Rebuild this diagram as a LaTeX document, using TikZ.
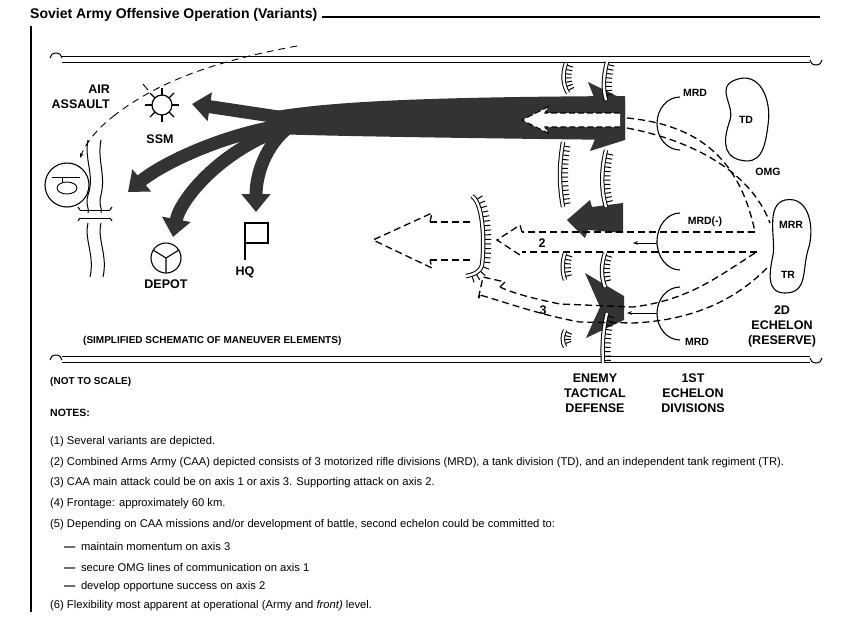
\documentclass[tikz,border=0pt]{standalone}
\usepackage{fontspec}
\setmainfont{Liberation Sans}
\usetikzlibrary{arrows.meta,decorations.markings}
\begin{document}
\begin{tikzpicture}[x=1pt,y=-1pt,
 lbl/.style={font=\bfseries\fontsize{12.5}{15}\selectfont, align=center, inner sep=0pt},
 sm/.style={font=\bfseries\fontsize{10.5}{12}\selectfont},
 note/.style={font=\fontsize{11.2}{13}\selectfont, anchor=west, inner sep=0pt},
 trench/.style={draw, double=white, double distance=2.4pt, line width=1pt,
   postaction={decorate, decoration={markings, mark=between positions 0.06 and 0.96 step 4.5pt with {\draw[line width=1pt] (0,2pt) -- (0,8pt);}}}},
 dsh/.style={dashed, dash pattern=on 7pt off 4pt, line width=1.3pt},
 gry/.style={fill=black!80, draw=none},
 gbr/.style={draw=black!80, line width=13pt, -{Triangle[width=28pt,length=18pt]}},
 semi/.style={line width=1.1pt}]
\useasboundingbox (0,0) rectangle (863,622);
% title
\node[anchor=west, inner sep=0pt, font=\bfseries\fontsize{14}{16}\selectfont] (title) at (30,15) {Soviet Army Offensive Operation (Variants)};
\draw[line width=2pt] (title.east) ++(5,2) coordinate (t1) -- (820,17);
\draw[line width=1.6pt] (31,26) -- (31,612);
% frame lines
\draw[line width=1pt] (62,56) -- (810,56) (62,62) -- (810,62);
\draw[line width=1pt] (62,356) -- (810,356) (62,362) -- (810,362);
\draw[line width=1pt] (50,58) arc (180:360:6 and 5) (810,60) arc (180:360:6 and -5);
\draw[line width=1pt] (50,360) arc (180:360:6 and 5) (810,358) arc (180:360:6 and -5);
% main gray trunk
\fill[gry] (265,113) .. controls (330,100) and (450,97) .. (625,96) -- (625,140) .. controls (450,138) and (330,136) .. (272,134) -- cycle;
\fill[gry] (588,82) -- (625,100) -- (625,140) -- (590,151) -- (603,120) -- cycle;
\draw[gbr] (285,118) -- (192,104);
\draw[gbr] (285,125) .. controls (220,135) and (160,165) .. (128,192);
\draw[gbr] (285,128) .. controls (220,150) and (180,200) .. (173,237);
\draw[gbr] (290,126) .. controls (265,145) and (256,175) .. (256,212);
% white dashed arrow in trunk
\filldraw[fill=white, draw=black, line width=1.1pt, dash pattern=on 6pt off 3pt] (620,113) -- (545,113) -- (548,107) -- (522,120) -- (548,133) -- (545,127) -- (620,127);
% middle and lower gray arrows
\fill[gry] (623,203) -- (623,233) -- (588,230) -- (585,238) -- (567,220) -- (590,200) -- (592,207) -- cycle;
\fill[gry] (585,273) -- (624,296) -- (624,320) -- (586,338) -- (600,307) -- cycle;
% trenches
\draw[trench] (566,63) .. controls (562,75) and (563,85) .. (568,93);
\draw[trench] (607,62) .. controls (603,78) and (603,90) .. (606,100);
\draw[trench] (563,142) .. controls (559,165) and (559,185) .. (563,207);
\draw[trench] (606,150) .. controls (601,170) and (601,190) .. (606,207);
\draw[trench] (565,253) .. controls (562,262) and (562,272) .. (565,280);
\draw[trench] (605,253) .. controls (601,265) and (601,277) .. (605,287);
\draw[trench] (565,330) .. controls (562,336) and (562,342) .. (565,347);
\draw[trench] (607,313) .. controls (603,330) and (602,345) .. (603,363);
\draw[trench] (472,196) .. controls (485,205) and (484,250) .. (482,265) .. controls (480,273) and (472,275) .. (466,276);
% dashed routes
\draw[dsh] (627,118) .. controls (700,125) and (740,160) .. (755,232) -- (745,232);
\draw[dsh] (627,128) .. controls (690,140) and (750,170) .. (770,223);
\draw[dsh] (755,232) -- (522,232);
\draw[dsh] (757,252) -- (522,252);
\draw[dsh] (470,222) -- (430,222) (470,260) -- (430,260);
\draw[dsh] (522,232) -- (520,225) -- (497,240) -- (520,255) -- (522,252);
\draw[dsh] (430,222) -- (432,213) -- (373,240) -- (432,268) -- (430,260);
\draw[dsh] (755,253) .. controls (720,275) and (690,300) .. (633,307) -- (560,304) .. controls (530,298) and (510,292) .. (500,287);
\draw[dsh] (767,268) .. controls (740,295) and (700,320) .. (633,323) -- (580,322) .. controls (540,315) and (505,302) .. (480,295);
\draw[dsh] (500,287) -- (505,282) -- (483,277) -- (478,300) -- (480,295);
% MRD semicircles
\draw[semi] (680,97) arc (270:90:23 and 26.5);
\draw[semi] (680,213) arc (270:90:23 and 28.5);
\draw[semi] (680,287) arc (270:90:23 and 26.5);
\draw[line width=0.8pt,-{Stealth[length=5pt]}] (657,243) -- (633,243);
\draw[line width=0.8pt,-{Stealth[length=5pt]}] (657,313) -- (627,313);
% blobs
\draw[semi] (735,80) .. controls (760,70) and (772,100) .. (768,125) .. controls (765,150) and (760,165) .. (740,160) .. controls (720,155) and (725,135) .. (730,120) .. controls (735,105) and (715,88) .. (735,80) -- cycle;
\draw[semi] (785,200) .. controls (810,195) and (815,230) .. (808,250) .. controls (802,270) and (808,293) .. (785,293) .. controls (765,293) and (770,270) .. (773,255) .. controls (776,240) and (765,205) .. (785,200) -- cycle;
% labels right
\node[lbl, sm] (mrd1) at (695,93) {MRD};
\node[lbl, sm] (td) at (746,120) {TD};
\node[lbl, sm] (omg) at (768,172) {OMG};
\node[lbl, sm] (mrd2) at (705,222) {MRD(-)};
\node[lbl, sm] (mrr) at (791,225) {MRR};
\node[lbl, sm] (tr) at (788,275) {TR};
\node[lbl, sm] (mrd3) at (697,342) {MRD};
\node[lbl] (axis2) at (542,243) {2};
\node[lbl] (axis3) at (543,310) {3};
\node[lbl] (ech2) at (782,326) {2D\\ECHELON\\(RESERVE)};
\node[lbl] (enemy) at (595,393) {ENEMY\\TACTICAL\\DEFENSE};
\node[lbl] (ech1) at (693,393) {1ST\\ECHELON\\DIVISIONS};
% left side
\node[lbl, align=right, anchor=east] (air) at (110,97) {AIR\\ASSAULT};
\draw[line width=0.9pt, dash pattern=on 7pt off 5pt] (297,46) .. controls (220,60) and (160,80) .. (115,115);
\draw[line width=0.9pt, dash pattern=on 7pt off 5pt, -{Stealth[length=5pt]}] (115,115) .. controls (95,130) and (85,145) .. (80,158);
\draw[line width=0.9pt] (143,84) -- (148,90);
% SSM sun
\draw[line width=1.2pt] (162,105) circle (10);
\foreach \a in {0,45,...,315} \draw[line width=1.2pt] (162,105) ++(\a:10) -- ++(\a:7);
\node[lbl] (ssm) at (160,139) {SSM};
% river and helicopter
\draw[line width=1pt] (88,140) .. controls (84,160) and (95,175) .. (88,195) .. controls (85,205) and (90,210) .. (88,213);
\draw[line width=1pt] (101,140) .. controls (97,160) and (106,175) .. (101,195) .. controls (98,205) and (103,210) .. (101,213);
\draw[line width=1pt] (88,223) .. controls (84,240) and (95,255) .. (90,277);
\draw[line width=1pt] (101,223) .. controls (97,240) and (108,255) .. (103,277);
\draw[line width=1pt] (80,210) -- (110,210) (80,218) -- (110,218);
\draw[line width=1pt] (80,210) -- (78,207) (110,210) -- (112,207) (80,218) -- (78,221) (110,218) -- (112,221);
\draw[line width=1.1pt, fill=white] (67,185) circle (22);
\draw[line width=0.9pt] (52,177) -- (80,177);
\draw[line width=0.9pt] (67,188) ellipse (10 and 6);
\draw[line width=0.9pt] (62,177) -- (62,182);
% depot
\draw[line width=1.1pt] (166,258) circle (15);
\draw[line width=1.1pt] (166,258) -- (166,273) (166,258) -- (153,250) (166,258) -- (179,250);
\node[lbl] (depot) at (166,284) {DEPOT};
% HQ
\draw[line width=1.1pt] (245,260) -- (245,223) -- (268,223) -- (268,243) -- (245,243);
\node[lbl] (hq) at (245,272) {HQ};
\node[lbl, font=\bfseries\fontsize{10}{12}\selectfont, anchor=west] (simp) at (83,341) {(SIMPLIFIED SCHEMATIC OF MANEUVER ELEMENTS)};
\node[lbl, font=\bfseries\fontsize{10}{12}\selectfont, anchor=west] (nts) at (50,382) {(NOT TO SCALE)};
% notes
\node[note, font=\bfseries\fontsize{10.5}{12}\selectfont] (n0) at (50,413) {NOTES:};
\node[note] (n1) at (50,442) {(1) Several variants are depicted.};
\node[note] (n2) at (50,463) {(2) Combined Arms Army (CAA) depicted consists of 3 motorized rifle divisions (MRD), a tank division (TD), and an independent tank regiment (TR).};
\node[note] (n3) at (50,483) {(3) CAA main attack could be on axis 1 or axis 3. Supporting attack on axis 2.};
\node[note] (n4) at (50,504) {(4) Frontage: approximately 60 km.};
\node[note] (n5) at (50,525) {(5) Depending on CAA missions and/or development of battle, second echelon could be committed to:};
\node[note] (n51) at (64,546) {\textbf{---}\enspace maintain momentum on axis 3};
\node[note] (n52) at (64,567) {\textbf{---}\enspace secure OMG lines of communication on axis 1};
\node[note] (n53) at (64,587) {\textbf{---}\enspace develop opportune success on axis 2};
\node[note] (n6) at (50,606) {(6) Flexibility most apparent at operational (Army and \textit{front)} level.};
\end{tikzpicture}
\end{document}
